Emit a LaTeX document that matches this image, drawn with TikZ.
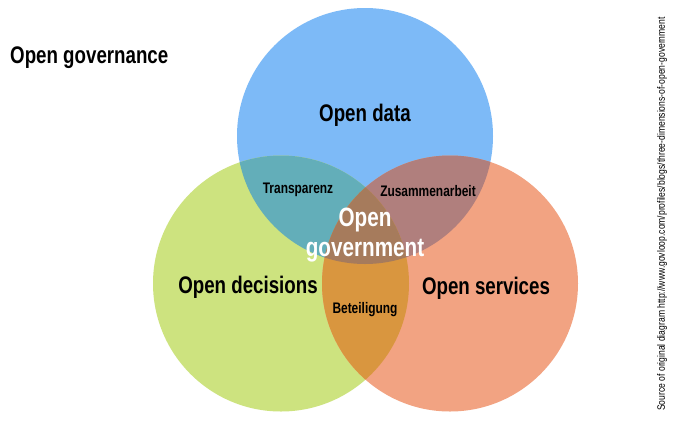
\documentclass[tikz,border=0pt]{standalone}
\usepackage{fontspec}
\setmainfont{Liberation Sans}
\newfontfamily\condb{Liberation Sans Bold}[FakeStretch=0.78]
\newfontfamily\condr{Liberation Sans}[FakeStretch=0.8]
\definecolor{cblue}{HTML}{7DBAF7}
\definecolor{cgreen}{HTML}{CDE37F}
\definecolor{corange}{HTML}{F2A382}
\definecolor{cbg}{HTML}{63AEB9}
\definecolor{cbo}{HTML}{B07F7D}
\definecolor{cgo}{HTML}{D9963F}
\definecolor{cmid}{HTML}{A67B5C}
\tikzset{
  big/.style={font=\condb\fontsize{24}{27}\selectfont, inner sep=0pt, align=center},
  small/.style={font=\condb\fontsize{15.3}{17}\selectfont, inner sep=0pt},
  circ/.style={circle, inner sep=0pt, minimum size=256pt},
}
\begin{document}
\begin{tikzpicture}[x=1pt,y=-1pt]
\useasboundingbox (0,0) rectangle (673,424);
\fill[white] (0,0) rectangle (673,424);
\node[circ, fill=cblue] (cdata) at (365,136) {};
\node[circ, fill=cgreen] (cdec) at (281,283.5) {};
\node[circ, fill=corange] (cserv) at (450,283.5) {};
\begin{scope}
  \clip (365,136) circle[radius=128pt];
  \fill[cbg] (281,283.5) circle[radius=128pt];
  \fill[cbo] (450,283.5) circle[radius=128pt];
\end{scope}
\begin{scope}
  \clip (281,283.5) circle[radius=128pt];
  \fill[cgo] (450,283.5) circle[radius=128pt];
\end{scope}
\begin{scope}
  \clip (365,136) circle[radius=128pt];
  \clip (281,283.5) circle[radius=128pt];
  \fill[cmid] (450,283.5) circle[radius=128pt];
\end{scope}
\node[big, anchor=west] (title) at (10,58) {Open governance};
\node[big] (ldata) at (365,115) {Open data};
\node[big] (ldec) at (248,287) {Open decisions};
\node[big] (lserv) at (486,288) {Open services};
\node[big, text=white, font=\condb\fontsize{26.5}{30}\selectfont] (lgov) at (365,235) {Open\\government};
\node[small] (ltrans) at (298,190) {Transparenz};
\node[small] (lzus) at (428,191) {Zusammenarbeit};
\node[small] (lbet) at (365,310) {Beteiligung};
\node[font=\condr\fontsize{10.7}{12}\selectfont, inner sep=0pt, rotate=90] (src) at (662,214) {Source of original diagram http://www.govloop.com/profiles/blogs/three-dimensions-of-open-government};
\end{tikzpicture}
\end{document}
